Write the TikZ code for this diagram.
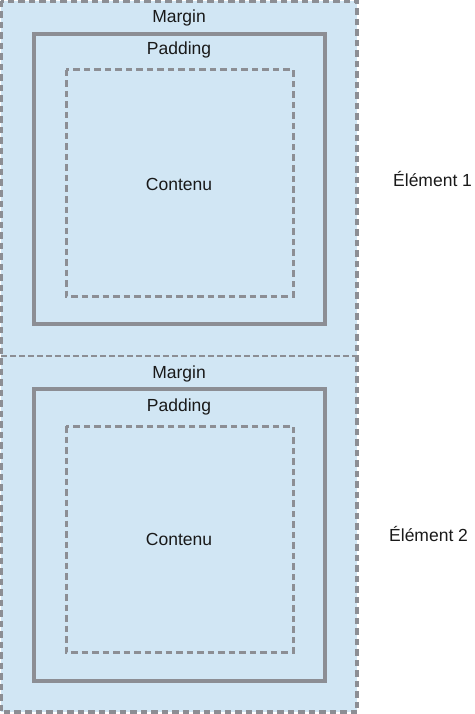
\documentclass[tikz,border=0pt]{standalone}
\usepackage{fontspec}
\setmainfont{Liberation Sans}
\definecolor{boxfill}{RGB}{209,230,244}
\definecolor{boxline}{RGB}{140,142,148}
\tikzset{
  marginborder/.style={draw=boxline, line width=3.3pt, dash pattern=on 6.5pt off 4pt},
  splitline/.style={draw=boxline, line width=1.8pt, dash pattern=on 6pt off 3pt},
  paddingbox/.style={draw=boxline, line width=3.5pt},
  contentbox/.style={draw=boxline, line width=3pt, dash pattern=on 6.5pt off 4pt},
  lbl/.style={font=\fontsize{17.5}{21}\selectfont, text=black!90, inner sep=0pt, anchor=base},
  sidelbl/.style={lbl, anchor=base west}
}
\begin{document}
\begin{tikzpicture}[x=1pt,y=-1pt]
\useasboundingbox (0,0) rectangle (474,714);
% margin area
\fill[boxfill] (1,1) rectangle (357,712);
\path[marginborder] (1,1) rectangle (357,712);
\path[splitline] (1,356) -- (357,356);
% element 1
\path[paddingbox] (34,34) rectangle (325,324);
\path[contentbox] (66,70) rectangle (293,296);
\node[lbl] (m1) at (179,23) {Margin};
\node[lbl] (p1) at (179,55) {Padding};
\node[lbl] (c1) at (179,190) {Contenu};
\node[sidelbl] (e1) at (393,186) {Élément 1};
% element 2
\path[paddingbox] (34,389) rectangle (325,681);
\path[contentbox] (66,426) rectangle (293,652);
\node[lbl] (m2) at (179,378) {Margin};
\node[lbl] (p2) at (179,411) {Padding};
\node[lbl] (c2) at (179,545) {Contenu};
\node[sidelbl] (e2) at (389,541) {Élément 2};
\end{tikzpicture}
\end{document}
